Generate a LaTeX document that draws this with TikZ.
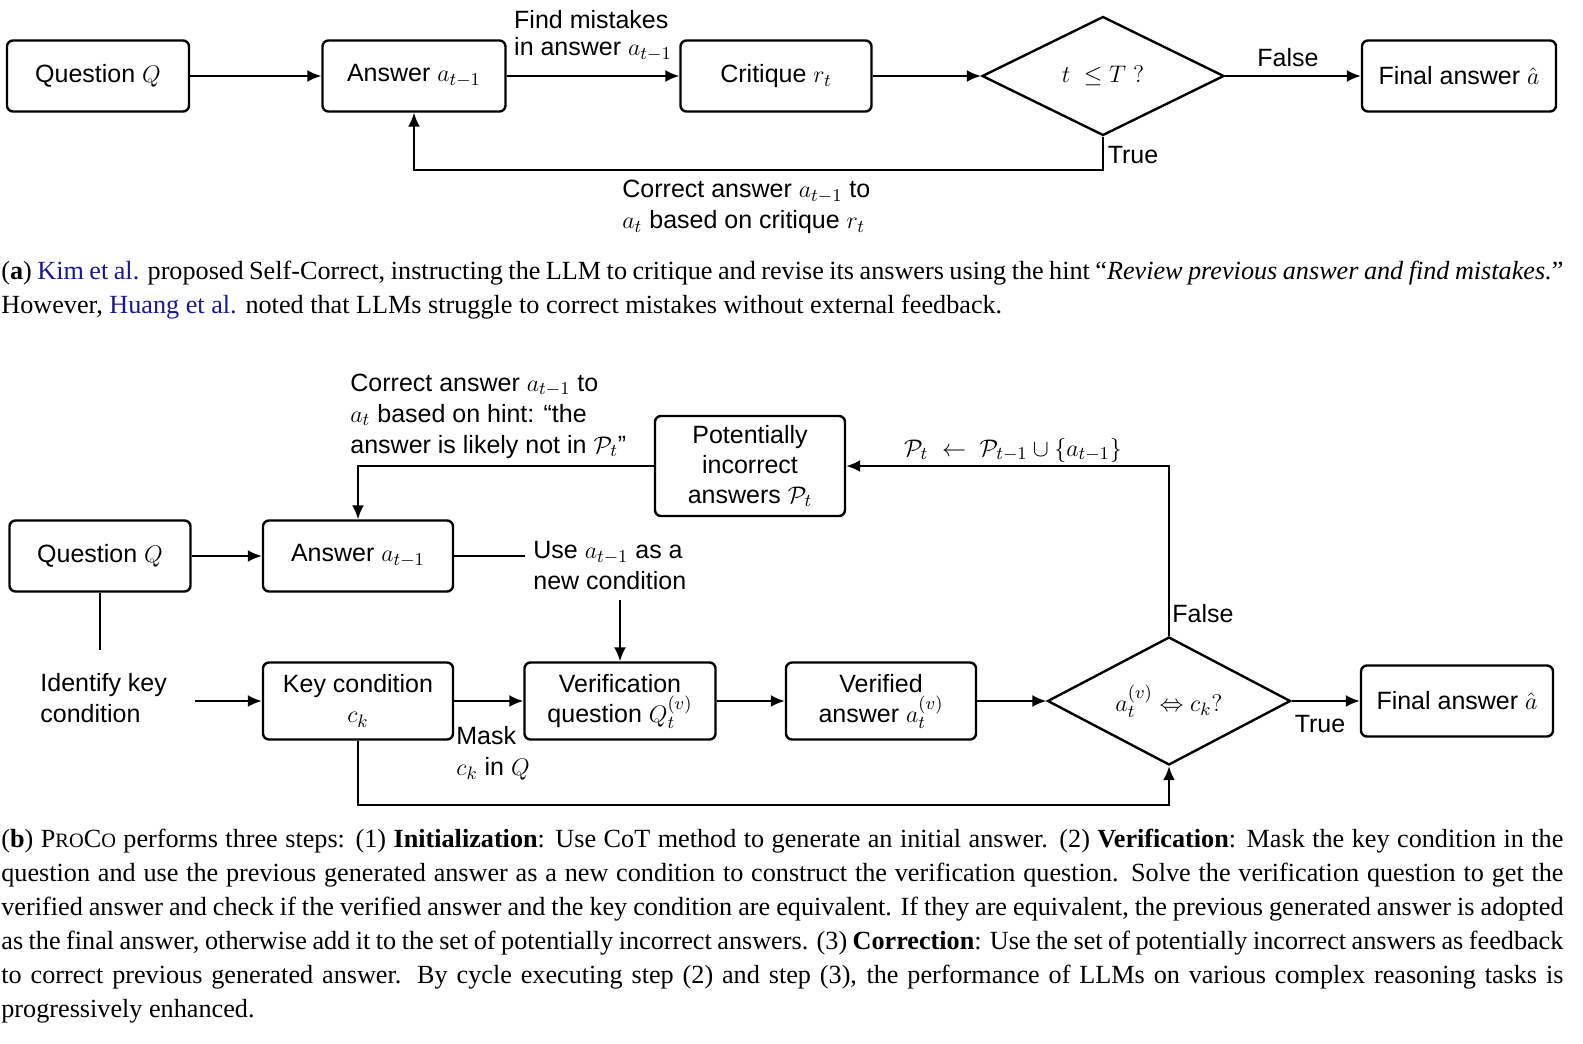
\documentclass[tikz,border=0pt]{standalone}
\usepackage{fontspec}
\setmainfont{Liberation Serif}
\newfontfamily\diasans{Liberation Sans}
\usetikzlibrary{shapes.geometric,arrows.meta}
\definecolor{linkblue}{RGB}{25,25,140}
\begin{document}
\begin{tikzpicture}[x=0.5pt,y=-0.5pt,
  box/.style={draw,line width=1.2pt,rounded corners=3pt,font=\diasans\fontsize{12.5}{15}\selectfont,align=center,inner sep=0pt},
  dia/.style={draw,diamond,line width=1.2pt,aspect=2,inner sep=0pt,font=\diasans\fontsize{12.5}{15}\selectfont},
  lab/.style={font=\diasans\fontsize{12.5}{15.5}\selectfont,align=left,inner sep=0pt},
  arr/.style={line width=1.1pt,-{Latex[length=7pt,width=6pt]}},
  ln/.style={line width=1.1pt},
  captext/.style={anchor=north west,inner sep=0pt,text width=781pt,align=justify,font=\fontsize{13.1}{17}\selectfont}]
\useasboundingbox (0,0) rectangle (1583,1043);
% ---- (a)
\node[box,minimum width=91pt,minimum height=35.5pt] (qa) at (98,76) {Question $Q$};
\node[box,minimum width=91.5pt,minimum height=35.5pt] (aa) at (414,76) {Answer $a_{t-1}$};
\node[box,minimum width=95.5pt,minimum height=35.5pt] (ca) at (776,76) {Critique $r_t$};
\node[dia,minimum width=121pt,minimum height=59.5pt] (da) at (1103,76) {$t\ \le T\ ?$};
\node[box,minimum width=97pt,minimum height=35.5pt] (fa) at (1459,76) {Final answer $\hat{a}$};
\draw[arr] (qa) -- (aa);
\draw[arr] (aa) -- (ca);
\draw[arr] (ca) -- (da);
\draw[arr] (da) -- (fa);
\coordinate (la1) at (1103,170);
\coordinate (la2) at (414,170);
\draw[arr] (da.south) -- (la1) -- (la2) -- (aa.south);
\node[lab] (tfind) at (593,36) {Find mistakes\\[-2pt]in answer $a_{t-1}$};
\node[lab] (tfalsea) at (1288,58) {False};
\node[lab] (ttruea) at (1133,155) {True};
\node[lab,anchor=west] (tcorra) at (622,207) {Correct answer $a_{t-1}$ to\\$a_t$ based on critique $r_t$};
\node[captext] (capa) at (1,261) {(\textbf{a}) \textcolor{linkblue}{Kim et al.} proposed Self-Correct, instructing the LLM to critique and revise its answers using the hint ``\textit{Review previous answer and find mistakes.}'' However, \textcolor{linkblue}{Huang et al.} noted that LLMs struggle to correct mistakes without external feedback.};
% ---- (b)
\node[box,minimum width=95pt,minimum height=50pt] (pb) at (750,466) {Potentially\\incorrect\\answers $\mathcal{P}_t$};
\node[box,minimum width=90.5pt,minimum height=35.5pt] (qb) at (100,556) {Question $Q$};
\node[box,minimum width=95pt,minimum height=35.5pt] (ab) at (358,556) {Answer $a_{t-1}$};
\node[box,minimum width=95pt,minimum height=38.5pt] (kb) at (358,701) {Key condition\\$c_k$};
\node[box,minimum width=95.5pt,minimum height=38.5pt] (vqb) at (620,701) {Verification\\question $Q_t^{(v)}$};
\node[box,minimum width=95pt,minimum height=38.5pt] (vab) at (881,701) {Verified\\answer $a_t^{(v)}$};
\node[dia,minimum width=121.5pt,minimum height=64pt] (db) at (1169,701) {$a_t^{(v)}\Leftrightarrow c_k?$};
\node[box,minimum width=96pt,minimum height=35.5pt] (fb) at (1457,701) {Final answer $\hat{a}$};
\coordinate (p1) at (1169,466);
\draw[arr] (db.north) -- (p1) -- (pb.east);
\coordinate (p2) at (358,466);
\draw[arr] (pb.west) -- (p2) -- (ab.north);
\draw[arr] (qb) -- (ab);
\coordinate (u1) at (525,556);
\draw[ln] (ab.east) -- (u1);
\coordinate (u2) at (620,600);
\draw[arr] (u2) -- (vqb.north);
\coordinate (i1) at (100,650);
\draw[ln] (qb.south) -- (i1);
\coordinate (i2) at (195,701);
\draw[arr] (i2) -- (kb.west);
\draw[arr] (kb) -- (vqb);
\draw[arr] (vqb) -- (vab);
\draw[arr] (vab) -- (db);
\draw[arr] (db) -- (fb);
\coordinate (k1) at (358,805);
\coordinate (k2) at (1169,805);
\draw[arr] (kb.south) -- (k1) -- (k2) -- (db.south);
\node[lab,anchor=west] (thint) at (350,416) {Correct answer $a_{t-1}$ to\\$a_t$ based on hint: “the\\answer is likely not in $\mathcal{P}_t$”};
\node[lab] (tpupd) at (1013,450) {$\mathcal{P}_t\ \leftarrow\ \mathcal{P}_{t-1}\cup\{a_{t-1}\}$};
\node[lab] (tfalseb) at (1203,614) {False};
\node[lab] (ttrueb) at (1320,724) {True};
\node[lab,anchor=west] (tuse) at (533,566) {Use $a_{t-1}$ as a\\new condition};
\node[lab,anchor=west] (tid) at (40,698) {Identify key\\condition};
\node[lab,anchor=west] (tmask) at (456,753) {Mask\\$c_k$ in $Q$};
\node[captext] (capb) at (1,829) {(\textbf{b}) P{\fontsize{10.2}{17}\selectfont RO}C{\fontsize{10.2}{17}\selectfont O} performs three steps: (1) \textbf{Initialization}: Use CoT method to generate an initial answer. (2) \textbf{Verification}: Mask the key condition in the question and use the previous generated answer as a new condition to construct the verification question. Solve the verification question to get the verified answer and check if the verified answer and the key condition are equivalent. If they are equivalent, the previous generated answer is adopted as the final answer, otherwise add it to the set of potentially incorrect answers. (3) \textbf{Correction}: Use the set of potentially incorrect answers as feedback to correct previous generated answer. By cycle executing step (2) and step (3), the performance of LLMs on various complex reasoning tasks is progressively enhanced.};
\end{tikzpicture}
\end{document}
